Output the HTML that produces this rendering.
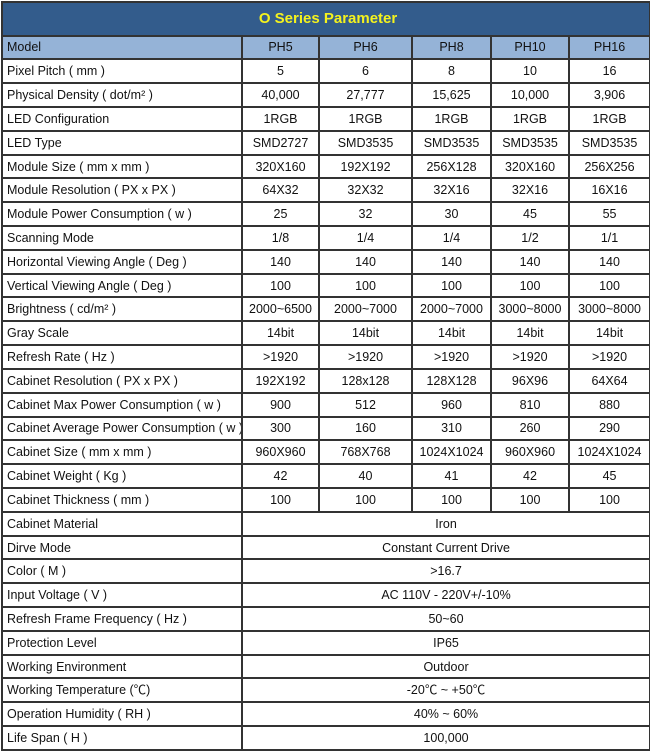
<!DOCTYPE html>
<html><head><meta charset="utf-8"><style>
html,body{margin:0;padding:0;background:#fff;}
table{position:absolute;left:1px;top:1px;width:648px;height:750px;border-collapse:collapse;table-layout:fixed;font-family:"Liberation Sans","Noto Sans CJK SC",sans-serif;font-size:12.5px;color:#111;}
td{border:2px solid #333;padding:0 0 0 4px;height:20px;line-height:14px;text-align:center;white-space:nowrap;overflow:hidden;}
td:first-child{text-align:left;}
td.c{padding:0;}
tr.t td{background:#335c8c;color:#f4f21e;font-weight:bold;font-size:15px;text-align:center;height:29px;}
tr.h td{background:#95b3d7;}
</style></head><body>
<table>
<colgroup><col style="width:240px"><col style="width:77px"><col style="width:93px"><col style="width:79px"><col style="width:78px"><col style="width:81px"></colgroup>
<tr class="t"><td colspan="6" style="text-align:center">O Series Parameter</td></tr>
<tr class="h"><td>Model</td><td class="c">PH5</td><td class="c">PH6</td><td class="c">PH8</td><td class="c">PH10</td><td class="c">PH16</td></tr>
<tr><td>Pixel Pitch ( mm )</td><td class="c">5</td><td class="c">6</td><td class="c">8</td><td class="c">10</td><td class="c">16</td></tr>
<tr><td>Physical Density ( dot/m² )</td><td class="c">40,000</td><td class="c">27,777</td><td class="c">15,625</td><td class="c">10,000</td><td class="c">3,906</td></tr>
<tr><td>LED Configuration</td><td class="c">1RGB</td><td class="c">1RGB</td><td class="c">1RGB</td><td class="c">1RGB</td><td class="c">1RGB</td></tr>
<tr><td>LED Type</td><td class="c">SMD2727</td><td class="c">SMD3535</td><td class="c">SMD3535</td><td class="c">SMD3535</td><td class="c">SMD3535</td></tr>
<tr><td>Module Size ( mm x mm )</td><td class="c">320X160</td><td class="c">192X192</td><td class="c">256X128</td><td class="c">320X160</td><td class="c">256X256</td></tr>
<tr><td>Module Resolution ( PX x PX )</td><td class="c">64X32</td><td class="c">32X32</td><td class="c">32X16</td><td class="c">32X16</td><td class="c">16X16</td></tr>
<tr><td>Module Power Consumption ( w )</td><td class="c">25</td><td class="c">32</td><td class="c">30</td><td class="c">45</td><td class="c">55</td></tr>
<tr><td>Scanning Mode</td><td class="c">1/8</td><td class="c">1/4</td><td class="c">1/4</td><td class="c">1/2</td><td class="c">1/1</td></tr>
<tr><td>Horizontal Viewing Angle ( Deg )</td><td class="c">140</td><td class="c">140</td><td class="c">140</td><td class="c">140</td><td class="c">140</td></tr>
<tr><td>Vertical Viewing Angle ( Deg )</td><td class="c">100</td><td class="c">100</td><td class="c">100</td><td class="c">100</td><td class="c">100</td></tr>
<tr><td>Brightness ( cd/m² )</td><td class="c">2000~6500</td><td class="c">2000~7000</td><td class="c">2000~7000</td><td class="c">3000~8000</td><td class="c">3000~8000</td></tr>
<tr><td>Gray Scale</td><td class="c">14bit</td><td class="c">14bit</td><td class="c">14bit</td><td class="c">14bit</td><td class="c">14bit</td></tr>
<tr><td>Refresh Rate ( Hz )</td><td class="c">&gt;1920</td><td class="c">&gt;1920</td><td class="c">&gt;1920</td><td class="c">&gt;1920</td><td class="c">&gt;1920</td></tr>
<tr><td>Cabinet Resolution ( PX x PX )</td><td class="c">192X192</td><td class="c">128x128</td><td class="c">128X128</td><td class="c">96X96</td><td class="c">64X64</td></tr>
<tr><td>Cabinet Max Power Consumption ( w )</td><td class="c">900</td><td class="c">512</td><td class="c">960</td><td class="c">810</td><td class="c">880</td></tr>
<tr><td>Cabinet Average Power Consumption ( w )</td><td class="c">300</td><td class="c">160</td><td class="c">310</td><td class="c">260</td><td class="c">290</td></tr>
<tr><td>Cabinet Size ( mm x mm )</td><td class="c">960X960</td><td class="c">768X768</td><td class="c">1024X1024</td><td class="c">960X960</td><td class="c">1024X1024</td></tr>
<tr><td>Cabinet Weight ( Kg )</td><td class="c">42</td><td class="c">40</td><td class="c">41</td><td class="c">42</td><td class="c">45</td></tr>
<tr><td>Cabinet Thickness ( mm )</td><td class="c">100</td><td class="c">100</td><td class="c">100</td><td class="c">100</td><td class="c">100</td></tr>
<tr><td>Cabinet Material</td><td class="c" colspan="5">Iron</td></tr>
<tr><td>Dirve Mode</td><td class="c" colspan="5">Constant Current Drive</td></tr>
<tr><td>Color ( M )</td><td class="c" colspan="5">&gt;16.7</td></tr>
<tr><td>Input Voltage ( V )</td><td class="c" colspan="5">AC 110V - 220V+/-10%</td></tr>
<tr><td>Refresh Frame Frequency ( Hz )</td><td class="c" colspan="5">50~60</td></tr>
<tr><td>Protection Level</td><td class="c" colspan="5">IP65</td></tr>
<tr><td>Working Environment</td><td class="c" colspan="5">Outdoor</td></tr>
<tr><td>Working Temperature (℃)</td><td class="c" colspan="5">-20℃ ~ +50℃</td></tr>
<tr><td>Operation Humidity ( RH )</td><td class="c" colspan="5">40% ~ 60%</td></tr>
<tr><td>Life Span ( H )</td><td class="c" colspan="5">100,000</td></tr>
</table>
</body></html>
